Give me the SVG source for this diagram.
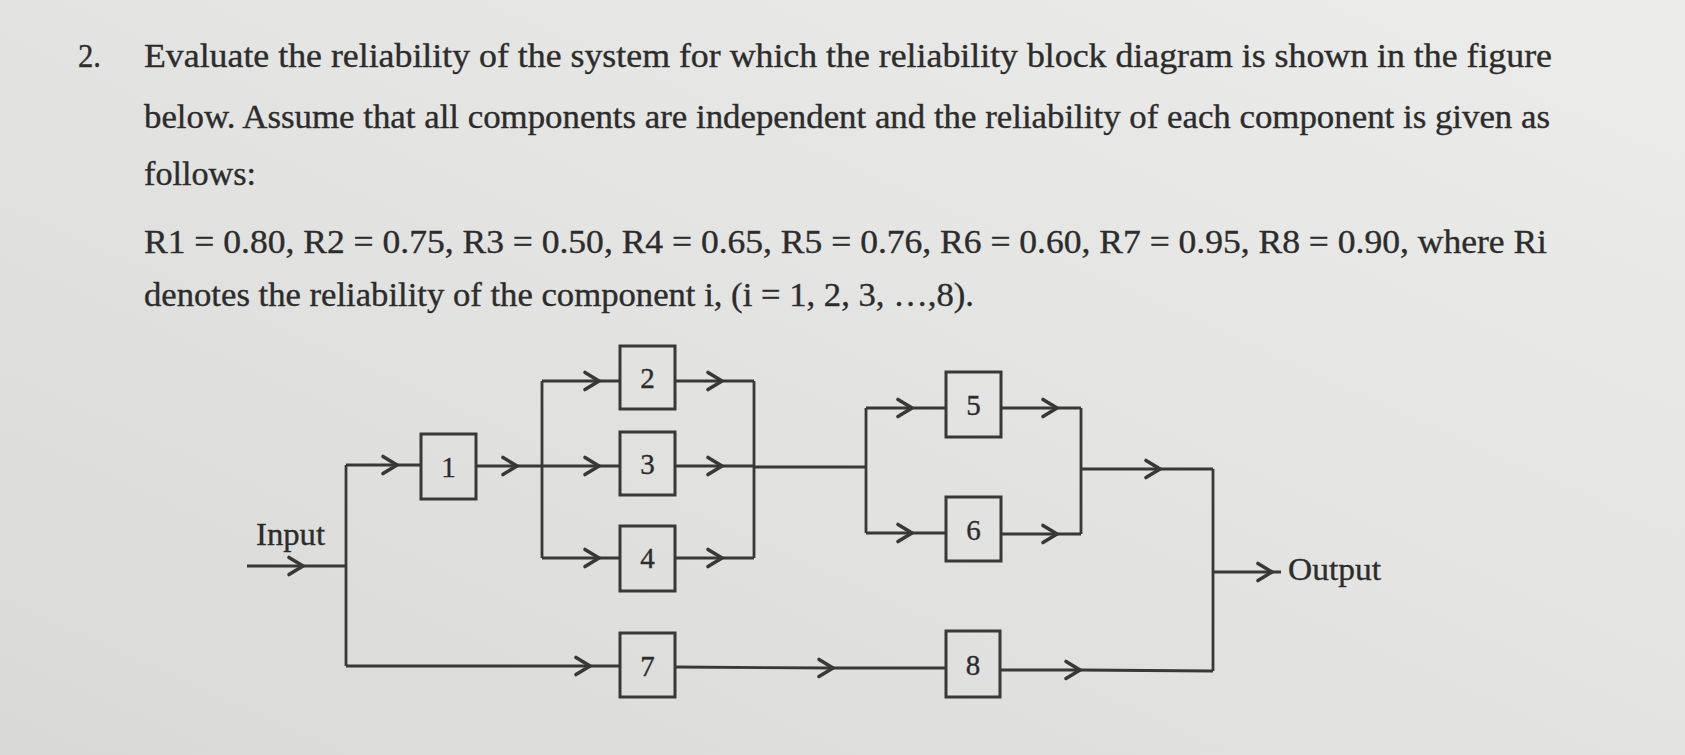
<svg xmlns="http://www.w3.org/2000/svg" width="1685" height="755" viewBox="0 0 1685 755">
  <defs>
    <linearGradient id="paper" x1="0" y1="1" x2="1" y2="0">
      <stop offset="0" stop-color="#d9d9d7"/>
      <stop offset="0.5" stop-color="#e3e3e1"/>
      <stop offset="1" stop-color="#ececea"/>
    </linearGradient>
    <marker id="chev" markerUnits="userSpaceOnUse" markerWidth="20" markerHeight="24" refX="16" refY="10" orient="auto" overflow="visible">
      <path d="M2,1.5 L16,10 L2,18.5" fill="none" stroke="#383838" stroke-width="3.6" stroke-linejoin="miter" stroke-linecap="round"/>
    </marker>
    <style>
      .txt { font-family: "Liberation Serif", "Times New Roman", serif; fill: #2c2c2c; stroke: #2c2c2c; stroke-width: 0.35; }
      .body { font-size: 33px; }
      .lbl { font-size: 32px; }
      .num { font-size: 29px; text-anchor: middle; }
      .box { fill: none; stroke: #383838; stroke-width: 3; }
      .wire { fill: none; stroke: #383838; stroke-width: 2.8; stroke-linejoin: miter; }
      .arr { marker-mid: url(#chev); }
    </style>
  </defs>

  <rect x="0" y="0" width="1685" height="755" fill="url(#paper)"/>

  <g id="question">
    <text class="txt body" x="78" y="67" textLength="23" lengthAdjust="spacingAndGlyphs">2.</text>
    <text class="txt body" x="144" y="67" textLength="1408" lengthAdjust="spacingAndGlyphs">Evaluate the reliability of the system for which the reliability block diagram is shown in the figure</text>
    <text class="txt body" x="144" y="128" textLength="1406" lengthAdjust="spacingAndGlyphs">below. Assume that all components are independent and the reliability of each component is given as</text>
    <text class="txt body" x="144" y="185" textLength="112" lengthAdjust="spacingAndGlyphs">follows:</text>
    <text class="txt body" x="144" y="253" textLength="1403" lengthAdjust="spacingAndGlyphs">R1 = 0.80, R2 = 0.75, R3 = 0.50, R4 = 0.65, R5 = 0.76, R6 = 0.60, R7 = 0.95, R8 = 0.90, where Ri</text>
    <text class="txt body" x="144" y="306" textLength="830" lengthAdjust="spacingAndGlyphs">denotes the reliability of the component i, (i = 1, 2, 3, …,8).</text>
  </g>

  <g id="connectors">
    <!-- input -->
    <polyline class="wire arr" points="247,566 303,566 346,566"/>
    <polyline class="wire" points="346,465 346,666"/>
    <polyline class="wire arr" points="346,465 397,465 421,465"/>
    <polyline class="wire arr" points="476,466 517,466 542,466"/>
    <!-- bus 2-4 -->
    <polyline class="wire" points="542,381 542,558"/>
    <polyline class="wire arr" points="542,381 599,381 620,381"/>
    <polyline class="wire arr" points="542,466 599,466 620,466"/>
    <polyline class="wire arr" points="542,558 599,558 620,558"/>
    <polyline class="wire arr" points="675,381 722,381 754,381"/>
    <polyline class="wire arr" points="675,466 722,466 754,466"/>
    <polyline class="wire arr" points="675,558 722,558 754,558"/>
    <polyline class="wire" points="754,381 754,558"/>
    <polyline class="wire" points="754,467 866,467"/>
    <!-- bus 5-6 -->
    <polyline class="wire" points="866,408 866,533"/>
    <polyline class="wire arr" points="866,408 912,408 946,408"/>
    <polyline class="wire arr" points="866,533 912,533 946,533"/>
    <polyline class="wire arr" points="1001,408 1057,408 1081,408"/>
    <polyline class="wire arr" points="1001,534 1057,534 1081,534"/>
    <polyline class="wire" points="1081,408 1081,534"/>
    <polyline class="wire arr" points="1081,469 1160,469 1213,469"/>
    <!-- bottom path -->
    <polyline class="wire" points="346,666 560,666"/>
    <polyline class="wire arr" points="560,666 590,666 620,666"/>
    <polyline class="wire arr" points="675,667 833,668 946,668"/>
    <polyline class="wire arr" points="1000,670 1080,670 1213,671"/>
    <!-- output -->
    <polyline class="wire" points="1213,469 1213,671"/>
    <polyline class="wire arr" points="1213,572 1272,572 1281,572"/>
  </g>

  <g id="input-label"><text class="txt lbl" x="256" y="545" textLength="69" lengthAdjust="spacingAndGlyphs">Input</text></g>
  <g id="output-label"><text class="txt lbl" x="1288" y="580" textLength="93" lengthAdjust="spacingAndGlyphs">Output</text></g>

  <g id="node1"><rect class="box" x="421" y="434" width="55" height="65"/><text class="txt num" x="448.5" y="477">1</text></g>
  <g id="node2"><rect class="box" x="620" y="346" width="55" height="63"/><text class="txt num" x="647.5" y="388">2</text></g>
  <g id="node3"><rect class="box" x="620" y="432" width="55" height="63"/><text class="txt num" x="647.5" y="474">3</text></g>
  <g id="node4"><rect class="box" x="620" y="526" width="55" height="65"/><text class="txt num" x="647.5" y="568">4</text></g>
  <g id="node5"><rect class="box" x="946" y="372" width="55" height="65"/><text class="txt num" x="973.5" y="415">5</text></g>
  <g id="node6"><rect class="box" x="946" y="497" width="55" height="64"/><text class="txt num" x="973.5" y="540">6</text></g>
  <g id="node7"><rect class="box" x="620" y="633" width="55" height="64"/><text class="txt num" x="647.5" y="676">7</text></g>
  <g id="node8"><rect class="box" x="946" y="631" width="54" height="66"/><text class="txt num" x="973" y="675">8</text></g>
</svg>
